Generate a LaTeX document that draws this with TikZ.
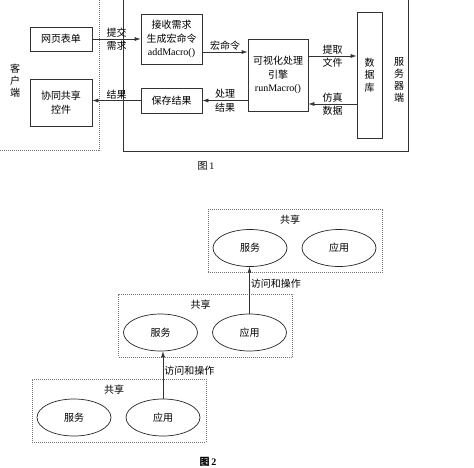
\documentclass[tikz,border=0pt]{standalone}
\usepackage{fontspec}
\setmainfont{Liberation Serif}
\newfontfamily\cjk{Noto Sans CJK SC}
\usetikzlibrary{arrows.meta,positioning,shapes.geometric}

\begin{document}
\begin{tikzpicture}[>={Latex[length=6pt,width=4pt]}, x=1pt, y=-1pt,
  font=\cjk\fontsize{10}{13.5}\selectfont,
  box/.style={draw=black!80, line width=0.7pt, inner sep=0pt, align=center},
  link/.style={->, draw=black!80, line width=0.7pt},
  tag/.style={inner sep=1pt, align=center},
  vtext/.style={align=center, font=\cjk\fontsize{10}{12}\selectfont},
  zone/.style={draw=black!55, dash pattern=on 1pt off 1pt, line width=0.5pt},
  oval/.style={draw=black!85, ellipse, line width=0.7pt, inner sep=0pt,
    minimum width=74pt, minimum height=37pt}]
  \useasboundingbox (0,0) rectangle (474,467);

  % figure 1: client and server
  \draw[zone] (0,150) -- (99,150) -- (99,0);
  \draw[black!80, line width=0.7pt] (123,0) -- (123,151) -- (408,151) -- (408,0);
  \node[vtext] (client) at (15,81) {客\\户\\端};
  \node[vtext] (server) at (399,80) {服\\务\\器\\端};

  \node[box, minimum width=62pt, minimum height=24pt] (form) at (61,39) {网页表单};
  \node[box, minimum width=62pt, minimum height=47pt] (ctrl) at (61,102.5) {协同共享\\控件};
  \node[box, minimum width=61pt, minimum height=50pt] (recv) at (171.5,39)
    {接收需求\\生成宏命令\\{\rmfamily addMacro()}};
  \node[box, minimum width=61pt, minimum height=25pt] (save) at (171.5,100.5) {保存结果};
  \node[box, minimum width=60pt, minimum height=72pt] (engine) at (278,75)
    {可视化处理\\引擎\\{\rmfamily runMacro()}};
  \node[box, minimum width=25pt, minimum height=126pt, font=\cjk\fontsize{10}{12.5}\selectfont]
    (db) at (369.5,75) {数\\据\\库};

  \draw[link] (form.east) -- node[tag] {提交\\需求} (recv.west);
  \draw[link] ([yshift=-13pt]recv.east) -- node[tag, above] {宏命令} ([yshift=-13pt]recv.east -| engine.west);
  \draw[link] (engine.west |- save.east) -- node[tag] {处理\\结果} (save.east);
  \draw[link] (save.west) -- node[tag, above] {结果} (save.west -| ctrl.east);
  \draw[link] ([yshift=19pt]engine.east) -- node[tag] {提取\\文件} ([yshift=19pt]engine.east -| db.west);
  \draw[link] ([yshift=-29pt]db.west) -- node[tag] {仿真\\数据} ([yshift=-29pt]db.west -| engine.east);

  \node (cap1) at (206,166) {图\,{\rmfamily 1}};

  % figure 2: three sharing levels
  \foreach \i/\gx/\gy in {1/295/241, 2/205.5/325.5, 3/119/410.5} {
    \node[zone, minimum width=174pt, minimum height=63pt] (grp\i) at (\gx,\gy) {};
    \node (share\i) at (\gx-5,\gy-21) {共享};
    \node[oval] (svc\i) at (\gx-45,\gy+7) {服务};
    \node[oval] (app\i) at (\gx+44,\gy+7) {应用};
  }
  \draw[link, line width=0.5pt] (app2.north) -- node[tag, right, pos=0.65] {访问和操作} (app2.north |- svc1.south);
  \draw[link, line width=0.5pt] (app3.north) -- node[tag, right, pos=0.6] {访问和操作} (app3.north |- svc2.south);

  \node[font=\cjk\bfseries\fontsize{10}{12}\selectfont] (cap2) at (208,462) {图\,{\rmfamily 2}};
\end{tikzpicture}
\end{document}
